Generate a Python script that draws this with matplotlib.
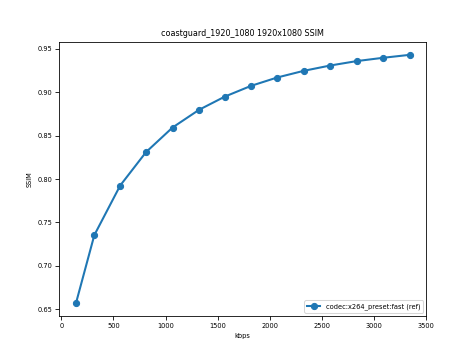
import matplotlib
matplotlib.use("Agg")
import matplotlib.pyplot as plt

# bitrate (kbps) vs SSIM for the reference encode
kbps = [140, 317, 565, 813, 1067, 1321, 1570, 1820, 2070, 2325, 2578, 2832, 3085, 3340]
ssim = [0.6565, 0.7353, 0.7924, 0.8309, 0.8592, 0.8796, 0.8949,
        0.9072, 0.9168, 0.9245, 0.9306, 0.9357, 0.9395, 0.9429]
label = "codec:x264_preset:fast (ref)"

fig = plt.figure(figsize=(6.4, 4.8), dpi=74)
ax = fig.add_subplot(111)
ax.plot(kbps, ssim, marker="o", linewidth=2, label=label)
ax.set_xlabel("kbps", fontsize=6.5)
ax.set_ylabel("SSIM", fontsize=6.5)
ax.set_title("coastguard_1920_1080 1920x1080 SSIM", fontsize=7.8)
ax.tick_params(labelsize=6.5)
ax.legend(loc="lower right", fontsize=6.5)
fig.savefig("out.png", dpi=74)
